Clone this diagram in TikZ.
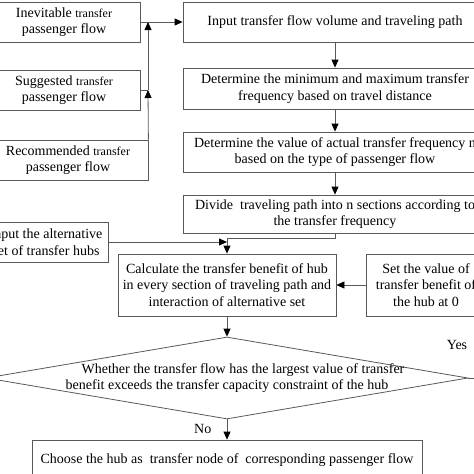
\documentclass[tikz,border=0pt]{standalone}
\usepackage{fontspec}
\setmainfont{Liberation Serif}
\usetikzlibrary{arrows.meta,shapes.geometric}
\newcommand{\tword}[1]{{\fontsize{12}{14}\selectfont #1}}
\begin{document}
\begin{tikzpicture}[x=1pt,y=-1pt,
  box/.style={draw=black!65, line width=0.8pt, rectangle, inner sep=0pt,
    align=center, font=\fontsize{14}{16.5}\selectfont},
  line/.style={draw=black!65, line width=0.8pt},
  arr/.style={line, -{Triangle[length=8pt,width=7pt,black]}}]
  \useasboundingbox (0,0) rectangle (474,474);
  \clip (0,0) rectangle (474,474);

  % Passagierstroeme links
  \node[box, minimum width=152, minimum height=40] (inev) at (64,22)
    {Inevitable \tword{transfer}\\passenger flow};
  \node[box, minimum width=152, minimum height=40] (sugg) at (64,90)
    {Suggested \tword{transfer}\\passenger flow};
  \node[box, minimum width=160, minimum height=40] (reco) at (68,160)
    {Recommended \tword{transfer}\\passenger flow};

  % Hauptkette rechts
  \node[box, minimum width=304, minimum height=40] (input) at (335,22)
    {Input transfer flow volume and traveling path};
  \node[box, minimum width=304, minimum height=41] (minmax) at (335,88.5)
    {Determine the minimum and maximum transfer\\frequency based on travel distance};
  \node[box, minimum width=304, minimum height=40] (actual) at (335,152)
    {Determine the value of actual transfer frequency n\\based on the type of passenger flow};
  \node[box, minimum width=304, minimum height=38] (divide) at (335,214)
    {Divide\ \ traveling path into n sections according to\\the transfer frequency};

  % Knotenmenge und Nutzen
  \node[box, minimum width=124, minimum height=40] (alt) at (46,242)
    {Input the alternative\\set of transfer hubs};
  \node[box, minimum width=218, minimum height=62] (calc) at (227,285)
    {Calculate the transfer benefit of hub\\in every section of traveling path and\\interaction of alternative set};
  \node[box, minimum width=120, minimum height=62] (setval) at (426,285)
    {Set the value of\\transfer benefit of\\the hub at 0};

  % Entscheidung
  \node[draw=black!65, line width=0.8pt, diamond, inner sep=0pt,
    minimum width=482, minimum height=82,
    label={[align=center, font=\fontsize{14}{16.5}\selectfont]center:\hspace*{32pt}Whether the transfer flow has the largest value of transfer\\benefit exceeds the transfer capacity constraint of the hub}]
    (dec) at (227,378) {};
  \node[box, minimum width=390, minimum height=40] (choose) at (227,460)
    {Choose the hub as\ \ transfer node of\ \ corresponding passenger flow};

  % Verbindungen links
  \coordinate (j1) at (148,22);
  \coordinate (j2) at (148,90);
  \draw[line] (inev.east) -- (j1);
  \draw[line] (sugg.east) -- (j2);
  \draw[arr] (reco.north east) -- (j2);
  \draw[arr] (j2) -- (j1);
  \draw[arr] (j1) -- (input.west);

  % Verbindungen rechts
  \draw[arr] (input) -- (minmax);
  \draw[arr] (minmax) -- (actual);
  \draw[arr] (actual) -- (divide);
  \draw[arr] (divide.south) -- ++(0,5) -| (calc.north);
  \draw[arr] (alt.east) -- (alt.east -| calc.north);
  \draw[arr] (setval.west) -- (calc.east);
  \draw[arr] (calc) -- (dec.north);
  \draw[arr] (dec.south) -- (choose.north)
    node[pos=0.45, left=12pt, font=\fontsize{14}{16.5}\selectfont] (no) {No};
  \draw[arr] (dec.east) -- ++(30,0) |- (setval.east);
  \node[font=\fontsize{14}{16.5}\selectfont] (yes) at (457,345) {Yes};
\end{tikzpicture}
\end{document}
